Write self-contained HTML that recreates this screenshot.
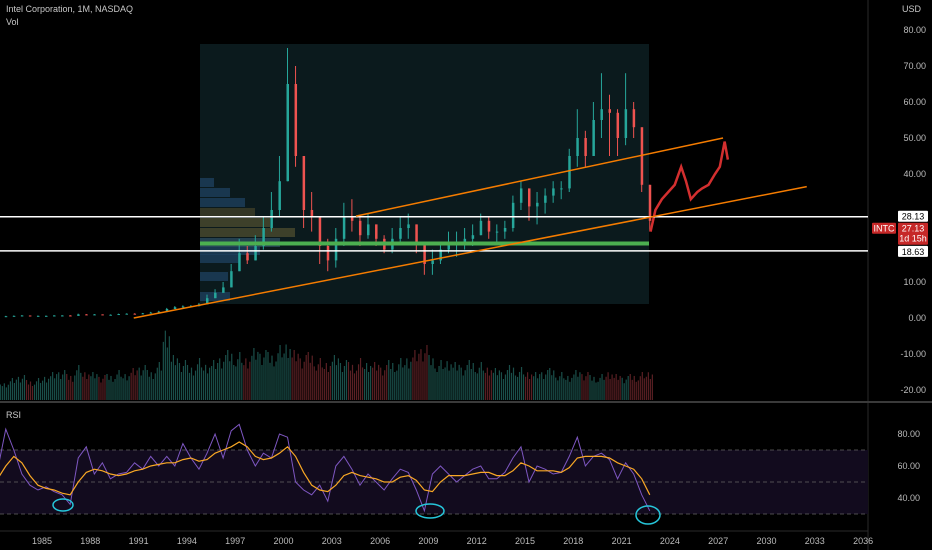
<!DOCTYPE html>
<html><head><meta charset="utf-8"><style>
html,body{margin:0;padding:0;background:#000;width:932px;height:550px;overflow:hidden;font-family:"Liberation Sans",sans-serif}
svg{display:block}
text{font-family:"Liberation Sans",sans-serif}
</style></head><body>
<svg id="c" width="932" height="550" xmlns="http://www.w3.org/2000/svg">
<rect width="932" height="550" fill="#000"/>
<rect x="200" y="44" width="449" height="260" fill="#0b1a1d"/>
<line x1="868" y1="0" x2="868" y2="550" stroke="#2a2a2a"/>
<line x1="0" y1="402" x2="932" y2="402" stroke="#3a3a3a" stroke-width="2"/>
<line x1="0" y1="531" x2="868" y2="531" stroke="#2a2a2a"/>
<text x="6" y="12" fill="#c8c8c8" font-size="9">Intel Corporation, 1M, NASDAQ</text>
<text x="6" y="25" fill="#c8c8c8" font-size="9">Vol</text>
<text x="6" y="418" fill="#c8c8c8" font-size="9">RSI</text>
<text x="902" y="12" fill="#c8c8c8" font-size="9">USD</text>
<g id="g"></g>
</svg>
<script>
const startYear=1982, step=0.5;
const price=[0.4,0.5,0.6,0.7,0.6,0.6,0.6,0.7,0.7,0.6,1.0,0.9,1.0,0.9,0.9,1.1,1.2,1.1,1.3,1.5,1.8,2.5,3.0,3.2,3.3,3.8,5.5,7.0,8.5,13,18,16,20,25,30,38,65,45,30,28,20,16,22,28,27,23,26,22,19,22,25,26,21,15,16,19,21,21,22,23,27,24,24,25,32,36,31,32,34,36,36,45,50,45,55,58,57,50,58,53,37,27];
const priceHigh=[0.5,0.6,0.7,0.8,0.7,0.7,0.7,0.8,0.8,0.8,1.2,1.1,1.1,1.0,1.0,1.2,1.3,1.3,1.4,1.7,2.0,2.8,3.3,3.5,3.6,4.2,6.5,8.0,10,15,22,20,23,28,35,45,75,70,40,35,26,22,25,32,33,28,29,26,23,25,28,29,26,21,19,21,24,24,25,26,29,28,26,27,34,38,35,35,36,38,38,47,58,52,60,68,62,58,68,60,50,37];
const priceLow=[0.3,0.4,0.5,0.6,0.5,0.5,0.5,0.6,0.6,0.5,0.6,0.8,0.9,0.8,0.8,0.9,1.0,1.0,1.1,1.3,1.5,1.8,2.5,2.9,3.0,3.2,3.8,5.5,7,8.5,13,15,16,19,24,28,38,42,25,24,15,13,14,20,24,20,22,20,18,18,21,22,18,12,12,15,18,17,19,20,23,22,21,22,24,30,27,26,29,32,33,35,42,42,45,50,45,45,48,50,35,24];
const projYears=[2022.8,2023.1,2023.5,2023.9,2024.3,2024.7,2025.0,2025.3,2025.7,2026.0,2026.4,2026.8,2027.1,2027.4,2027.6];
const projPrice=[24,30,33,35,37,42,38,33,35,36,37,40,42,49,44];
const volume=[20,18,22,25,20,22,25,28,30,26,35,30,28,25,26,30,28,32,35,30,38,75,45,40,35,42,38,40,45,50,48,45,52,50,48,55,60,50,45,48,42,40,45,40,38,42,40,38,35,40,42,45,50,55,45,40,42,38,35,40,38,35,32,30,35,33,30,28,30,32,28,26,30,28,25,26,30,26,24,26,28,30];
const rsi=[58,83,70,55,48,45,47,44,42,36,65,72,55,62,52,55,56,62,58,66,60,66,60,74,65,58,68,80,65,82,86,70,60,68,65,80,78,50,45,42,48,38,60,66,58,48,55,50,45,52,58,56,45,32,55,60,55,50,54,58,60,52,52,56,65,72,50,60,58,55,56,66,78,60,66,68,64,52,62,55,42,32];
const rsiMA=[52,60,66,62,54,48,46,45,43,42,50,56,58,57,55,54,55,57,58,60,61,62,62,64,65,63,64,68,70,72,75,72,66,64,65,68,72,66,56,48,45,44,48,54,56,54,53,52,50,50,53,54,51,45,44,50,54,54,54,55,56,56,54,54,57,62,60,57,57,57,56,59,65,66,66,66,65,62,60,58,52,42];
const priceTicks=[80,70,60,50,40,10,0,-10,-20];
const rsiTicks=[80,60,40];
const yearTicks=[1985,1988,1991,1994,1997,2000,2003,2006,2009,2012,2015,2018,2021,2024,2027,2030,2033,2036];

const NS="http://www.w3.org/2000/svg", g=document.getElementById('g');
const X=yr=>42+(yr-1985)*16.1;
const Y=p=>318-p*3.6;
const RY=v=>434+(80-v)*1.6;
function el(tag,attrs){const e=document.createElementNS(NS,tag);for(const k in attrs)e.setAttribute(k,attrs[k]);g.appendChild(e);return e;}

const vpRows=[[300,30,'#1d3f5c'],[280,28,'#1d3f5c'],[262,40,'#1d3f5c'],[254,60,'#1d3f5c'],[246,80,'#2a4a5c'],[236,95,'#4a4a2e'],[226,70,'#4a4a2e'],[216,55,'#3d3d28'],[206,45,'#1d3f5c'],[196,30,'#1d3f5c'],[186,14,'#1d3f5c']];
vpRows.forEach((r,i)=>{const e=el('rect',{x:200,y:r[0]-8,width:r[1],height:9,fill:r[2],opacity:0.8});

});

const band=el('rect',{x:0,y:RY(70),width:868,height:RY(30)-RY(70),fill:'#120b1e'});


[70,50,30].forEach(v=>{const l=el('line',{x1:0,x2:868,y1:RY(v),y2:RY(v),stroke:'#666','stroke-dasharray':'4,3','stroke-width':0.8});

});

volume.forEach((v,i)=>{const x0=X(startYear+i*step);const up=i==0||price[i]>=price[i-1];
for(let k=0;k<4;k++){const h=v*(0.7+0.3*((k*7+i)%5)/4);
const b=el('rect',{x:x0+k*2,y:400-h,width:1.2,height:h,fill:up?'#1a4f4a':'#5a2024'});

}});

price.forEach((p,i)=>{const x0=X(startYear+i*step);const o=i==0?p:price[i-1];const up=p>=o;const col=up?'#26a69a':'#ef5350';
const w=el('line',{x1:x0+4,x2:x0+4,y1:Y(priceHigh[i]),y2:Y(priceLow[i]),stroke:col,'stroke-width':1});


const b=el('rect',{x:x0+3,y:Y(Math.max(o,p)),width:2.5,height:Math.max(1,Math.abs(Y(o)-Y(p))),fill:col});

});

let pd='';projYears.forEach((yy,i)=>{pd+=(i?'L':'M')+X(yy)+','+Y(projPrice[i]);});
const pj=el('path',{d:pd,fill:'none',stroke:'#d32f2f','stroke-width':2.5});



const h1=el('line',{x1:0,x2:868,y1:Y(28.13),y2:Y(28.13),stroke:'#fff','stroke-width':1.5});


const h2=el('line',{x1:0,x2:868,y1:Y(18.63),y2:Y(18.63),stroke:'#fff','stroke-width':1.5});


const gl=el('line',{x1:200,x2:649,y1:Y(20.7),y2:Y(20.7),stroke:'#4caf50','stroke-width':4});


const t1=el('line',{x1:X(2004.5),y1:Y(28.3),x2:X(2027.3),y2:Y(50),stroke:'#f57c00','stroke-width':1.5});


const t2=el('line',{x1:X(1990.7),y1:Y(0),x2:X(2032.5),y2:Y(36.5),stroke:'#f57c00','stroke-width':1.5});



let rd='',md='';rsi.forEach((v,i)=>{rd+=(i?'L':'M')+X(startYear+i*step+0.25)+','+RY(v);md+=(i?'L':'M')+X(startYear+i*step+0.25)+','+RY(rsiMA[i]);});
const rl=el('path',{d:rd,fill:'none',stroke:'#7e57c2','stroke-width':1});


const ml=el('path',{d:md,fill:'none',stroke:'#f9a825','stroke-width':1.2});


[[63,505,10,6],[430,511,14,7],[648,515,12,9]].forEach(c=>{const e=el('ellipse',{cx:c[0],cy:c[1],rx:c[2],ry:c[3],fill:'none',stroke:'#26c6da','stroke-width':1.5});

});

priceTicks.forEach(p=>{const t=el('text',{x:926,y:Y(p)+3,fill:'#bbb','font-size':9,'text-anchor':'end'});t.textContent=p.toFixed(2);

});
rsiTicks.forEach(v=>{const t=el('text',{x:920,y:RY(v)+3,fill:'#bbb','font-size':9,'text-anchor':'end'});t.textContent=v.toFixed(2);

});
yearTicks.forEach(yy=>{const t=el('text',{x:X(yy),y:544,fill:'#bbb','font-size':9,'text-anchor':'middle'});t.textContent=yy;

});

function badge(yv,w,h,bg,fg,txt,x,name){const r=el('rect',{x:x,y:yv,width:w,height:h,fill:bg,rx:1});


txt.forEach((s,i)=>{const t=el('text',{x:x+w/2,y:yv+9+i*10,fill:fg,'font-size':9,'text-anchor':'middle'});t.textContent=s;

});}
badge(Y(28.13)-6,30,11,'#fff','#000',['28.13'],898,'resistance-badge');
badge(Y(28.13)+6,30,22,'#c62828','#fff',['27.13','1d 15h'],898,'last-price-badge');
badge(Y(28.13)+6,24,11,'#c62828','#fff',['INTC'],872,'symbol-badge');
badge(Y(18.63)-5,30,11,'#fff','#000',['18.63'],898,'support-badge');
</script>
</body></html>
